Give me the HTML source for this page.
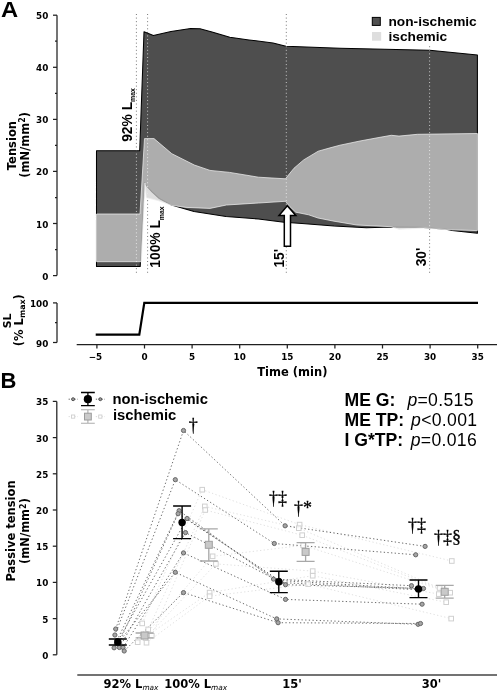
<!DOCTYPE html>
<html lang="en"><head><meta charset="utf-8"><title>Figure</title>
<style>html,body{margin:0;padding:0;background:#fff}svg{display:block}</style></head>
<body>
<svg width="498" height="691" viewBox="0 0 498 691">
<rect width="498" height="691" fill="#fff"/>
<defs><clipPath id="bands"><path d="M96.5,150.8 L139.7,150.8 L144.0,31.7 L153.4,35.4 L171.0,31.6 L190.7,28.4 L200.0,28.8 L212.0,31.9 L229.8,37.3 L249.0,39.9 L273.0,43.1 L286.0,46.3 L340.0,48.2 L429.6,50.2 L477.4,55.0 L477.4,233.2 L452.0,230.6 L446.0,229.2 L420.0,227.3 L392.0,226.9 L366.4,227.7 L334.0,226.0 L302.0,223.5 L284.0,222.2 L258.5,219.0 L226.0,216.4 L194.0,211.6 L171.5,205.1 L159.3,198.5 L152.0,191.9 L147.5,187.0 L144.3,182.8 L140.2,266.5 L96.5,266.5Z"/><path d="M96.5,214.0 L140.0,214.0 L144.5,138.6 L154.0,138.6 L171.8,153.7 L194.3,165.0 L210.0,170.4 L229.6,172.4 L258.5,177.2 L285.4,178.8 L294.0,168.2 L303.7,159.9 L318.2,151.2 L331.0,147.6 L340.0,145.2 L360.0,141.0 L380.0,137.3 L391.3,135.3 L399.0,136.1 L417.4,134.3 L477.4,133.5 L477.4,230.6 L446.0,229.6 L425.0,228.0 L399.0,229.3 L391.0,226.7 L356.8,225.0 L334.0,221.2 L318.0,218.0 L308.6,214.8 L295.7,212.2 L290.0,206.8 L285.4,201.3 L258.5,203.0 L226.4,205.0 L210.0,208.4 L186.0,207.4 L171.5,205.3 L158.0,200.6 L146.3,197.6 L145.0,183.0 L141.3,261.7 L96.5,261.7Z"/></clipPath></defs>
<g stroke="#777" stroke-width="1" stroke-dasharray="1 2.58" fill="none">
<path d="M136.4,14.0 V275"/>
<path d="M147.6,14.0 V275"/>
<path d="M286.3,14.0 V275"/>
<path d="M429.6,14.0 V275"/>
</g>
<path d="M96.5,150.8 L139.7,150.8 L144.0,31.7 L153.4,35.4 L171.0,31.6 L190.7,28.4 L200.0,28.8 L212.0,31.9 L229.8,37.3 L249.0,39.9 L273.0,43.1 L286.0,46.3 L340.0,48.2 L429.6,50.2 L477.4,55.0 L477.4,233.2 L452.0,230.6 L446.0,229.2 L420.0,227.3 L392.0,226.9 L366.4,227.7 L334.0,226.0 L302.0,223.5 L284.0,222.2 L258.5,219.0 L226.0,216.4 L194.0,211.6 L171.5,205.1 L159.3,198.5 L152.0,191.9 L147.5,187.0 L144.3,182.8 L140.2,266.5 L96.5,266.5Z" fill="#4e4e4e" stroke="#000" stroke-width="1.05" stroke-linejoin="round"/>
<path d="M96.5,214.0 L140.0,214.0 L144.5,138.6 L154.0,138.6 L171.8,153.7 L194.3,165.0 L210.0,170.4 L229.6,172.4 L258.5,177.2 L285.4,178.8 L294.0,168.2 L303.7,159.9 L318.2,151.2 L331.0,147.6 L340.0,145.2 L360.0,141.0 L380.0,137.3 L391.3,135.3 L399.0,136.1 L417.4,134.3 L477.4,133.5 L477.4,230.6 L446.0,229.6 L425.0,228.0 L399.0,229.3 L391.0,226.7 L356.8,225.0 L334.0,221.2 L318.0,218.0 L308.6,214.8 L295.7,212.2 L290.0,206.8 L285.4,201.3 L258.5,203.0 L226.4,205.0 L210.0,208.4 L186.0,207.4 L171.5,205.3 L158.0,200.6 L146.3,197.6 L145.0,183.0 L141.3,261.7 L96.5,261.7Z" fill="#d2d2d2" fill-opacity="0.72" stroke="#eeeeee" stroke-opacity="0.75" stroke-width="1" stroke-linejoin="round"/>
<g clip-path="url(#bands)" stroke="#fff" stroke-opacity="0.7" stroke-width="1" stroke-dasharray="1 2.58" fill="none">
<path d="M136.4,14.0 V275"/>
<path d="M147.6,14.0 V275"/>
<path d="M286.3,14.0 V275"/>
<path d="M429.6,14.0 V275"/>
</g>
<rect x="366" y="11" width="116" height="34" fill="#fff"/>
<rect x="372.3" y="17.4" width="8" height="8" fill="#505050" stroke="#000" stroke-width="1"/>
<rect x="372" y="32" width="9.2" height="8.7" fill="#dedede"/>
<text x="388.5" y="26.2" style="font-family:&quot;Liberation Sans&quot;,sans-serif;font-weight:bold;font-size:13.7px">non-ischemic</text>
<text x="388.5" y="40.7" style="font-family:&quot;Liberation Sans&quot;,sans-serif;font-weight:bold;font-size:13.7px">ischemic</text>
<text transform="translate(1,17.3) scale(1.08,1)" style="font-family:&quot;Liberation Sans&quot;,sans-serif;font-weight:bold;font-size:22px">A</text>
<text transform="translate(0.4,388) scale(1.0,1)" style="font-family:&quot;Liberation Sans&quot;,sans-serif;font-weight:bold;font-size:22px">B</text>
<g stroke="#202020" stroke-width="1.25" fill="none">
<path d="M57.0,15.2 V275.6"/>
<path d="M53.0,275.6 H57.0"/>
<path d="M53.0,223.5 H57.0"/>
<path d="M53.0,171.4 H57.0"/>
<path d="M53.0,119.4 H57.0"/>
<path d="M53.0,67.3 H57.0"/>
<path d="M53.0,15.2 H57.0"/>
<path d="M55.0,249.6 H57.0"/>
<path d="M55.0,197.5 H57.0"/>
<path d="M55.0,145.4 H57.0"/>
<path d="M55.0,93.3 H57.0"/>
<path d="M55.0,41.2 H57.0"/>
</g>
<text x="48.3" y="279.6" text-anchor="end" style="font-family:&quot;DejaVu Sans&quot;,sans-serif;font-weight:bold;font-size:8.8px">0</text>
<text x="48.3" y="227.5" text-anchor="end" style="font-family:&quot;DejaVu Sans&quot;,sans-serif;font-weight:bold;font-size:8.8px">10</text>
<text x="48.3" y="175.4" text-anchor="end" style="font-family:&quot;DejaVu Sans&quot;,sans-serif;font-weight:bold;font-size:8.8px">20</text>
<text x="48.3" y="123.4" text-anchor="end" style="font-family:&quot;DejaVu Sans&quot;,sans-serif;font-weight:bold;font-size:8.8px">30</text>
<text x="48.3" y="71.3" text-anchor="end" style="font-family:&quot;DejaVu Sans&quot;,sans-serif;font-weight:bold;font-size:8.8px">40</text>
<text x="48.3" y="19.2" text-anchor="end" style="font-family:&quot;DejaVu Sans&quot;,sans-serif;font-weight:bold;font-size:8.8px">50</text>
<text transform="translate(15.6,145.6) rotate(-90)" text-anchor="middle" style="font-family:&quot;DejaVu Sans&quot;,sans-serif;font-weight:bold;font-size:11.5px">Tension</text>
<text transform="translate(28.9,144.9) rotate(-90)" text-anchor="middle" style="font-family:&quot;DejaVu Sans&quot;,sans-serif;font-weight:bold;font-size:11.5px">(mN/mm<tspan dy="-3.6" font-size="8px">2</tspan><tspan dy="3.6">)</tspan></text>
<text transform="translate(132,141.8) rotate(-90)" style="font-family:&quot;Liberation Sans&quot;,sans-serif;font-weight:bold;font-size:13.8px">92% L<tspan dy="3.3" font-size="6.9px">max</tspan></text>
<text transform="translate(160.3,267.7) rotate(-90)" style="font-family:&quot;Liberation Sans&quot;,sans-serif;font-weight:bold;font-size:13.8px">100% L<tspan dy="3.3" font-size="6.9px">max</tspan></text>
<text transform="translate(283.9,267.6) rotate(-90)" style="font-family:&quot;Liberation Sans&quot;,sans-serif;font-weight:bold;font-size:13.8px">15&#39;</text>
<text transform="translate(425.7,266.3) rotate(-90)" style="font-family:&quot;Liberation Sans&quot;,sans-serif;font-weight:bold;font-size:13.8px">30&#39;</text>
<path d="M287.3,205.8 L295.8,215.4 H290.5 V246.2 H284.3 V215.4 H279 Z" fill="#fff" stroke="#000" stroke-width="1.5" stroke-linejoin="miter"/>
<g stroke="#202020" stroke-width="1.25" fill="none">
<path d="M57.0,302.9 V342.5"/>
<path d="M53.0,342.5 H57.0"/>
<path d="M53.0,302.9 H57.0"/>
<path d="M55.0,322.7 H57.0"/>
<path d="M76.7,344.6 H497" stroke-width="1.1"/>
<path d="M96.9,344.5 V348.5"/>
<path d="M144.5,344.5 V348.5"/>
<path d="M192.1,344.5 V348.5"/>
<path d="M239.7,344.5 V348.5"/>
<path d="M287.3,344.5 V348.5"/>
<path d="M334.9,344.5 V348.5"/>
<path d="M382.5,344.5 V348.5"/>
<path d="M430.1,344.5 V348.5"/>
<path d="M477.7,344.5 V348.5"/>
</g>
<text x="48.3" y="346.5" text-anchor="end" style="font-family:&quot;DejaVu Sans&quot;,sans-serif;font-weight:bold;font-size:8.8px">90</text>
<text x="48.3" y="306.9" text-anchor="end" style="font-family:&quot;DejaVu Sans&quot;,sans-serif;font-weight:bold;font-size:8.8px">100</text>
<text x="95.4" y="359.9" text-anchor="middle" style="font-family:&quot;DejaVu Sans&quot;,sans-serif;font-weight:bold;font-size:8.8px">−5</text>
<text x="144.5" y="359.9" text-anchor="middle" style="font-family:&quot;DejaVu Sans&quot;,sans-serif;font-weight:bold;font-size:8.8px">0</text>
<text x="192.1" y="359.9" text-anchor="middle" style="font-family:&quot;DejaVu Sans&quot;,sans-serif;font-weight:bold;font-size:8.8px">5</text>
<text x="239.7" y="359.9" text-anchor="middle" style="font-family:&quot;DejaVu Sans&quot;,sans-serif;font-weight:bold;font-size:8.8px">10</text>
<text x="287.3" y="359.9" text-anchor="middle" style="font-family:&quot;DejaVu Sans&quot;,sans-serif;font-weight:bold;font-size:8.8px">15</text>
<text x="334.9" y="359.9" text-anchor="middle" style="font-family:&quot;DejaVu Sans&quot;,sans-serif;font-weight:bold;font-size:8.8px">20</text>
<text x="382.5" y="359.9" text-anchor="middle" style="font-family:&quot;DejaVu Sans&quot;,sans-serif;font-weight:bold;font-size:8.8px">25</text>
<text x="430.1" y="359.9" text-anchor="middle" style="font-family:&quot;DejaVu Sans&quot;,sans-serif;font-weight:bold;font-size:8.8px">30</text>
<text x="477.7" y="359.9" text-anchor="middle" style="font-family:&quot;DejaVu Sans&quot;,sans-serif;font-weight:bold;font-size:8.8px">35</text>
<text x="292.3" y="376.3" text-anchor="middle" style="font-family:&quot;DejaVu Sans&quot;,sans-serif;font-weight:bold;font-size:11.5px">Time (min)</text>
<path d="M95.7,334.6 H139.3 L144.3,302.9 H478" fill="none" stroke="#000" stroke-width="2.2" stroke-linejoin="miter"/>
<text transform="translate(10.5,320.9) rotate(-90)" text-anchor="middle" style="font-family:&quot;DejaVu Sans&quot;,sans-serif;font-weight:bold;font-size:11px">SL</text>
<text transform="translate(23.1,320.2) rotate(-90)" text-anchor="middle" style="font-family:&quot;DejaVu Sans&quot;,sans-serif;font-weight:bold;font-size:11.5px">(% L<tspan dy="2" font-size="7.9px">max</tspan><tspan dy="-2">)</tspan></text>
<g stroke="#202020" stroke-width="1.25" fill="none">
<path d="M56.8,401.4 V654.8"/>
<path d="M52.8,654.8 H56.8"/>
<path d="M52.8,618.6 H56.8"/>
<path d="M52.8,582.4 H56.8"/>
<path d="M52.8,546.2 H56.8"/>
<path d="M52.8,510.0 H56.8"/>
<path d="M52.8,473.8 H56.8"/>
<path d="M52.8,437.6 H56.8"/>
<path d="M52.8,401.4 H56.8"/>
<path d="M77.3,675 H497" stroke-width="1.3" stroke="#444"/>
</g>
<text x="48.3" y="658.8" text-anchor="end" style="font-family:&quot;DejaVu Sans&quot;,sans-serif;font-weight:bold;font-size:8.8px">0</text>
<text x="48.3" y="622.6" text-anchor="end" style="font-family:&quot;DejaVu Sans&quot;,sans-serif;font-weight:bold;font-size:8.8px">5</text>
<text x="48.3" y="586.4" text-anchor="end" style="font-family:&quot;DejaVu Sans&quot;,sans-serif;font-weight:bold;font-size:8.8px">10</text>
<text x="48.3" y="550.2" text-anchor="end" style="font-family:&quot;DejaVu Sans&quot;,sans-serif;font-weight:bold;font-size:8.8px">15</text>
<text x="48.3" y="514.0" text-anchor="end" style="font-family:&quot;DejaVu Sans&quot;,sans-serif;font-weight:bold;font-size:8.8px">20</text>
<text x="48.3" y="477.8" text-anchor="end" style="font-family:&quot;DejaVu Sans&quot;,sans-serif;font-weight:bold;font-size:8.8px">25</text>
<text x="48.3" y="441.6" text-anchor="end" style="font-family:&quot;DejaVu Sans&quot;,sans-serif;font-weight:bold;font-size:8.8px">30</text>
<text x="48.3" y="405.4" text-anchor="end" style="font-family:&quot;DejaVu Sans&quot;,sans-serif;font-weight:bold;font-size:8.8px">35</text>
<text transform="translate(14.6,531) rotate(-90)" text-anchor="middle" style="font-family:&quot;DejaVu Sans&quot;,sans-serif;font-weight:bold;font-size:11.5px">Passive tension</text>
<text transform="translate(29.3,531) rotate(-90)" text-anchor="middle" style="font-family:&quot;DejaVu Sans&quot;,sans-serif;font-weight:bold;font-size:11.5px">(mN/mm<tspan dy="-3.6" font-size="8px">2</tspan><tspan dy="3.6">)</tspan></text>
<text x="131.0" y="687.5" text-anchor="middle" style="font-family:&quot;DejaVu Sans&quot;,sans-serif;font-weight:bold;font-size:11.5px">92% L<tspan dy="2" font-size="7.4px" style="font-weight:normal;font-style:italic">max</tspan></text>
<text x="195.7" y="687.5" text-anchor="middle" style="font-family:&quot;DejaVu Sans&quot;,sans-serif;font-weight:bold;font-size:11.5px">100% L<tspan dy="2" font-size="7.4px" style="font-weight:normal;font-style:italic">max</tspan></text>
<text x="292" y="687.5" text-anchor="middle" style="font-family:&quot;DejaVu Sans&quot;,sans-serif;font-weight:bold;font-size:11.5px">15'</text>
<text x="431.6" y="687.5" text-anchor="middle" style="font-family:&quot;DejaVu Sans&quot;,sans-serif;font-weight:bold;font-size:11.5px">30'</text>
<g fill="none" stroke="#dedede" stroke-width="0.9" stroke-dasharray="1.3 2.35">
<path d="M142.2,623.4 L202.2,489.7 L299.6,524.6 L451.8,561.0"/>
<path d="M148.2,629.4 L204.8,506.4 L298.8,528.2 L439.6,588.0"/>
<path d="M151.8,635.8 L205.2,510.0 L302.2,535.2 L444.0,590.5"/>
<path d="M144.0,636.5 L212.6,556.3 L303.2,545.3 L450.2,592.7"/>
<path d="M145.5,638.0 L215.9,563.9 L312.7,571.1 L438.8,594.1"/>
<path d="M137.7,642.2 L209.6,592.6 L312.7,575.7 L446.2,602.2"/>
<path d="M146.5,642.7 L209.6,596.2 L308.2,584.1 L451.2,618.6"/>
</g>
<g fill="none" stroke="#5a5a5a" stroke-width="0.9" stroke-dasharray="1.3 2.35">
<path d="M115.7,629.0 L183.5,430.5 L285.1,525.8 L425.1,546.4"/>
<path d="M114.9,635.0 L175.3,479.7 L274.3,543.5 L415.7,554.8"/>
<path d="M117.0,640.5 L179.1,510.7 L273.5,579.1 L411.5,585.7"/>
<path d="M119.0,642.5 L178.1,513.7 L279.5,580.5 L417.5,588.8"/>
<path d="M116.5,643.5 L187.1,518.5 L280.5,582.5 L419.5,589.8"/>
<path d="M119.4,647.5 L185.5,532.6 L285.5,584.7 L423.5,588.5"/>
<path d="M123.0,647.5 L183.5,552.9 L285.5,599.4 L422.1,604.2"/>
<path d="M114.1,647.8 L175.3,572.3 L276.7,618.9 L418.1,624.3"/>
<path d="M124.2,651.0 L183.5,592.6 L278.1,622.7 L420.5,623.5"/>
</g>
<g fill="#fff" fill-opacity="0.85" stroke="#d0d0d0" stroke-width="1">
<rect x="139.9" y="621.1" width="4.6" height="4.6"/>
<rect x="199.9" y="487.4" width="4.6" height="4.6"/>
<rect x="297.3" y="522.3" width="4.6" height="4.6"/>
<rect x="449.5" y="558.7" width="4.6" height="4.6"/>
<rect x="145.9" y="627.1" width="4.6" height="4.6"/>
<rect x="202.5" y="504.1" width="4.6" height="4.6"/>
<rect x="296.5" y="525.9" width="4.6" height="4.6"/>
<rect x="437.3" y="585.7" width="4.6" height="4.6"/>
<rect x="149.5" y="633.5" width="4.6" height="4.6"/>
<rect x="202.9" y="507.7" width="4.6" height="4.6"/>
<rect x="299.9" y="532.9" width="4.6" height="4.6"/>
<rect x="441.7" y="588.2" width="4.6" height="4.6"/>
<rect x="141.7" y="634.2" width="4.6" height="4.6"/>
<rect x="210.3" y="554.0" width="4.6" height="4.6"/>
<rect x="300.9" y="543.0" width="4.6" height="4.6"/>
<rect x="447.9" y="590.4" width="4.6" height="4.6"/>
<rect x="143.2" y="635.7" width="4.6" height="4.6"/>
<rect x="213.6" y="561.6" width="4.6" height="4.6"/>
<rect x="310.4" y="568.8" width="4.6" height="4.6"/>
<rect x="436.5" y="591.8" width="4.6" height="4.6"/>
<rect x="135.4" y="639.9" width="4.6" height="4.6"/>
<rect x="207.3" y="590.3" width="4.6" height="4.6"/>
<rect x="310.4" y="573.4" width="4.6" height="4.6"/>
<rect x="443.9" y="599.9" width="4.6" height="4.6"/>
<rect x="144.2" y="640.4" width="4.6" height="4.6"/>
<rect x="207.3" y="593.9" width="4.6" height="4.6"/>
<rect x="305.9" y="581.8" width="4.6" height="4.6"/>
<rect x="448.9" y="616.3" width="4.6" height="4.6"/>
</g>
<g fill="#a6a6a6" stroke="#666" stroke-width="1">
<circle cx="115.7" cy="629.0" r="2.1"/>
<circle cx="183.5" cy="430.5" r="2.1"/>
<circle cx="285.1" cy="525.8" r="2.1"/>
<circle cx="425.1" cy="546.4" r="2.1"/>
<circle cx="114.9" cy="635.0" r="2.1"/>
<circle cx="175.3" cy="479.7" r="2.1"/>
<circle cx="274.3" cy="543.5" r="2.1"/>
<circle cx="415.7" cy="554.8" r="2.1"/>
<circle cx="117.0" cy="640.5" r="2.1"/>
<circle cx="179.1" cy="510.7" r="2.1"/>
<circle cx="273.5" cy="579.1" r="2.1"/>
<circle cx="411.5" cy="585.7" r="2.1"/>
<circle cx="119.0" cy="642.5" r="2.1"/>
<circle cx="178.1" cy="513.7" r="2.1"/>
<circle cx="279.5" cy="580.5" r="2.1"/>
<circle cx="417.5" cy="588.8" r="2.1"/>
<circle cx="116.5" cy="643.5" r="2.1"/>
<circle cx="187.1" cy="518.5" r="2.1"/>
<circle cx="280.5" cy="582.5" r="2.1"/>
<circle cx="419.5" cy="589.8" r="2.1"/>
<circle cx="119.4" cy="647.5" r="2.1"/>
<circle cx="185.5" cy="532.6" r="2.1"/>
<circle cx="285.5" cy="584.7" r="2.1"/>
<circle cx="423.5" cy="588.5" r="2.1"/>
<circle cx="123.0" cy="647.5" r="2.1"/>
<circle cx="183.5" cy="552.9" r="2.1"/>
<circle cx="285.5" cy="599.4" r="2.1"/>
<circle cx="422.1" cy="604.2" r="2.1"/>
<circle cx="114.1" cy="647.8" r="2.1"/>
<circle cx="175.3" cy="572.3" r="2.1"/>
<circle cx="276.7" cy="618.9" r="2.1"/>
<circle cx="418.1" cy="624.3" r="2.1"/>
<circle cx="124.2" cy="651.0" r="2.1"/>
<circle cx="183.5" cy="592.6" r="2.1"/>
<circle cx="278.1" cy="622.7" r="2.1"/>
<circle cx="420.5" cy="623.5" r="2.1"/>
</g>
<path d="M144.6,633.0 V637.9 M135.6,633.0 H153.6 M135.6,637.9 H153.6" fill="none" stroke="#a8a8a8" stroke-width="1.3"/>
<rect x="141.1" y="632.0" width="7" height="7" fill="#c9c9c9" stroke="#a0a0a0" stroke-width="1"/>
<path d="M208.8,528.8 V561.0 M199.8,528.8 H217.8 M199.8,561.0 H217.8" fill="none" stroke="#a8a8a8" stroke-width="1.3"/>
<rect x="205.3" y="541.3" width="7" height="7" fill="#c9c9c9" stroke="#a0a0a0" stroke-width="1"/>
<path d="M305.6,542.7 V561.3 M296.6,542.7 H314.6 M296.6,561.3 H314.6" fill="none" stroke="#a8a8a8" stroke-width="1.3"/>
<rect x="302.1" y="548.4" width="7" height="7" fill="#c9c9c9" stroke="#a0a0a0" stroke-width="1"/>
<path d="M444.7,585.4 V598.2 M435.7,585.4 H453.7 M435.7,598.2 H453.7" fill="none" stroke="#a8a8a8" stroke-width="1.3"/>
<rect x="441.2" y="588.3" width="7" height="7" fill="#c9c9c9" stroke="#a0a0a0" stroke-width="1"/>
<path d="M117.8,639.0 V645.0 M108.8,639.0 H126.8 M108.8,645.0 H126.8" fill="none" stroke="#000" stroke-width="1.4"/>
<circle cx="117.8" cy="641.9" r="3.7" fill="#000"/>
<path d="M182.1,506.0 V538.6 M173.1,506.0 H191.1 M173.1,538.6 H191.1" fill="none" stroke="#000" stroke-width="1.4"/>
<circle cx="182.1" cy="522.5" r="3.7" fill="#000"/>
<path d="M278.8,571.2 V592.6 M269.8,571.2 H287.8 M269.8,592.6 H287.8" fill="none" stroke="#000" stroke-width="1.4"/>
<circle cx="278.8" cy="581.7" r="3.7" fill="#000"/>
<path d="M418.5,580.0 V597.6 M409.5,580.0 H427.5 M409.5,597.6 H427.5" fill="none" stroke="#000" stroke-width="1.4"/>
<circle cx="418.5" cy="588.9" r="3.7" fill="#000"/>
<path d="M68.6,399.2 H77.8 M95.8,399.2 H105" fill="none" stroke="#5a5a5a" stroke-width="0.9" stroke-dasharray="1.3 1.6"/>
<g fill="#9a9a9a" stroke="#4a4a4a" stroke-width="0.9"><circle cx="73.1" cy="399.2" r="1.5"/><circle cx="100.3" cy="399.2" r="1.5"/></g>
<path d="M87.9,392.5 V405.7 M81.0,392.5 H94.8 M81.0,405.7 H94.8" fill="none" stroke="#000" stroke-width="1.3"/>
<circle cx="87.9" cy="399.2" r="4.1" fill="#000"/>
<path d="M68.6,416.6 H77.8 M95.8,416.6 H105" fill="none" stroke="#d8d8d8" stroke-width="0.9" stroke-dasharray="1.3 1.6"/>
<g fill="#fff" stroke="#cfcfcf" stroke-width="0.9"><rect x="71.5" y="415" width="3.2" height="3.2"/><rect x="98.7" y="415" width="3.2" height="3.2"/></g>
<path d="M87.9,409.7 V423.3 M81.0,409.7 H94.8 M81.0,423.3 H94.8" fill="none" stroke="#adadad" stroke-width="1.1"/>
<rect x="84.5" y="413.2" width="6.8" height="6.8" fill="#cbcbcb" stroke="#9c9c9c" stroke-width="1"/>
<text x="112.5" y="404" style="font-family:&quot;Liberation Sans&quot;,sans-serif;font-weight:bold;font-size:14.8px">non-ischemic</text>
<text x="113" y="420.4" style="font-family:&quot;Liberation Sans&quot;,sans-serif;font-weight:bold;font-size:14.8px">ischemic</text>
<text x="344.5" y="405.5" style="font-family:&quot;Liberation Sans&quot;,sans-serif;font-weight:bold;font-size:17.6px">ME G:</text>
<text x="407.4" y="405.5" style="font-family:&quot;Liberation Sans&quot;,sans-serif;font-size:17.6px;letter-spacing:0.33px"><tspan font-style="italic">p</tspan>=0.515</text>
<text x="344.5" y="425.7" style="font-family:&quot;Liberation Sans&quot;,sans-serif;font-weight:bold;font-size:17.6px">ME TP:</text>
<text x="411.0" y="425.7" style="font-family:&quot;Liberation Sans&quot;,sans-serif;font-size:17.6px;letter-spacing:0.33px"><tspan font-style="italic">p</tspan>&lt;0.001</text>
<text x="344.5" y="446.0" style="font-family:&quot;Liberation Sans&quot;,sans-serif;font-weight:bold;font-size:17.6px">I G*TP:</text>
<text x="410.7" y="446.0" style="font-family:&quot;Liberation Sans&quot;,sans-serif;font-size:17.6px;letter-spacing:0.33px"><tspan font-style="italic">p</tspan>=0.016</text>
<text x="188.8" y="430.9" stroke="#000" stroke-width="0.28" style="font-family:&quot;Liberation Serif&quot;,serif;font-size:18px">†</text>
<text x="269.0" y="504.0" stroke="#000" stroke-width="0.28" style="font-family:&quot;Liberation Serif&quot;,serif;font-size:18px">†‡</text>
<text x="294.0" y="513.5" stroke="#000" stroke-width="0.28" style="font-family:&quot;Liberation Serif&quot;,serif;font-size:18px">†*</text>
<text x="408.0" y="530.5" stroke="#000" stroke-width="0.28" style="font-family:&quot;Liberation Serif&quot;,serif;font-size:18px">†‡</text>
<text x="434.0" y="542.5" stroke="#000" stroke-width="0.28" style="font-family:&quot;Liberation Serif&quot;,serif;font-size:18px">†‡§</text>
</svg>
</body></html>
